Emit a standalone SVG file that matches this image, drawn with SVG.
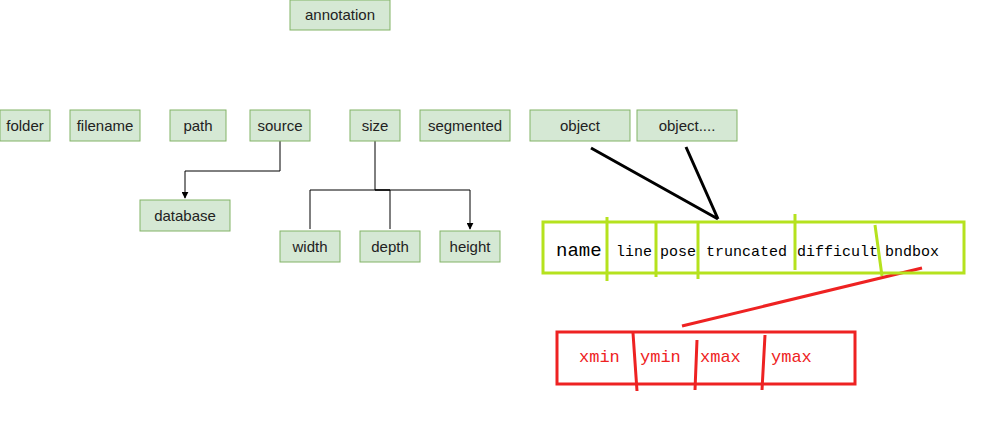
<svg xmlns="http://www.w3.org/2000/svg" width="988" height="422" viewBox="0 0 988 422">
<style>
.n rect{fill:#d5e8d4;stroke:#82b366;stroke-width:1}
.n text{font-family:"Liberation Sans",Arial,sans-serif;font-size:15px;fill:#222;text-anchor:middle}
.m{font-family:"Liberation Mono","Courier New",monospace;font-size:15px;fill:#000}
.r{font-family:"Liberation Mono","Courier New",monospace;font-size:17px;fill:#ee2222}
</style>
<defs><marker id="a" viewBox="0 0 10 10" refX="9" refY="5" markerWidth="7" markerHeight="7" orient="auto"><path d="M0,0L10,5L0,10z" fill="#000"/></marker></defs>
<rect width="988" height="422" fill="#fff"/>
<g id="connectors" fill="none" stroke="#000">
<path d="M280,141V171H185V198" marker-end="url(#a)"/>
<path d="M375,141V190H310V229M375,190H390V229M375,190H470V229" marker-end="url(#a)"/>
<path d="M375,190H390" />
<path d="M591,148L718,219M686,147L718,219" stroke-width="3"/>
<path d="M922,268L682,326" stroke="#ee2222" stroke-width="3"/>
</g>
<g id="annotation" class="n"><rect x="290" y="0" width="100" height="30"/><text x="340" y="20">annotation</text></g>
<g id="folder" class="n"><rect x="0" y="110" width="50" height="31"/><text x="25" y="131">folder</text></g>
<g id="filename" class="n"><rect x="70" y="110" width="70" height="31"/><text x="105" y="131">filename</text></g>
<g id="path" class="n"><rect x="170" y="110" width="56" height="31"/><text x="198" y="131">path</text></g>
<g id="source" class="n"><rect x="250" y="110" width="60" height="31"/><text x="280" y="131">source</text></g>
<g id="size" class="n"><rect x="350" y="110" width="50" height="31"/><text x="375" y="131">size</text></g>
<g id="segmented" class="n"><rect x="420" y="110" width="90" height="31"/><text x="465" y="131">segmented</text></g>
<g id="object" class="n"><rect x="530" y="110" width="100" height="31"/><text x="580" y="131">object</text></g>
<g id="object2" class="n"><rect x="637" y="110" width="100" height="31"/><text x="687" y="131">object....</text></g>
<g id="database" class="n"><rect x="140" y="200" width="90" height="31"/><text x="185" y="221">database</text></g>
<g id="width" class="n"><rect x="280" y="231" width="60" height="31"/><text x="310" y="252">width</text></g>
<g id="depth" class="n"><rect x="360" y="231" width="60" height="31"/><text x="390" y="252">depth</text></g>
<g id="height" class="n"><rect x="440" y="231" width="60" height="31"/><text x="470" y="252">height</text></g>
<g id="objfields" fill="none" stroke="#b5e21e" stroke-width="3">
<rect x="543" y="222" width="421" height="51"/>
<path d="M607,217V281M656,221V277M698,222V279M795,214V270M875,225L882,276"/>
<text class="m" x="556" y="256" style="font-size:19px" stroke="none">name</text>
<text class="m" x="616" y="256" stroke="none">line</text>
<text class="m" x="660" y="256" stroke="none">pose</text>
<text class="m" x="706" y="256" stroke="none">truncated</text>
<text class="m" x="797" y="256" stroke="none">difficult</text>
<text class="m" x="885" y="256" stroke="none">bndbox</text>
</g>
<g id="bndbox" fill="none" stroke="#ee2222" stroke-width="3">
<rect x="557" y="332" width="298" height="52"/>
<path d="M633,333L637,391M697,340L695,390M765,335L762,390"/>
<text class="r" x="579" y="362" stroke="none">xmin</text>
<text class="r" x="640" y="362" stroke="none">ymin</text>
<text class="r" x="700" y="362" stroke="none">xmax</text>
<text class="r" x="771" y="362" stroke="none">ymax</text>
</g>
</svg>
